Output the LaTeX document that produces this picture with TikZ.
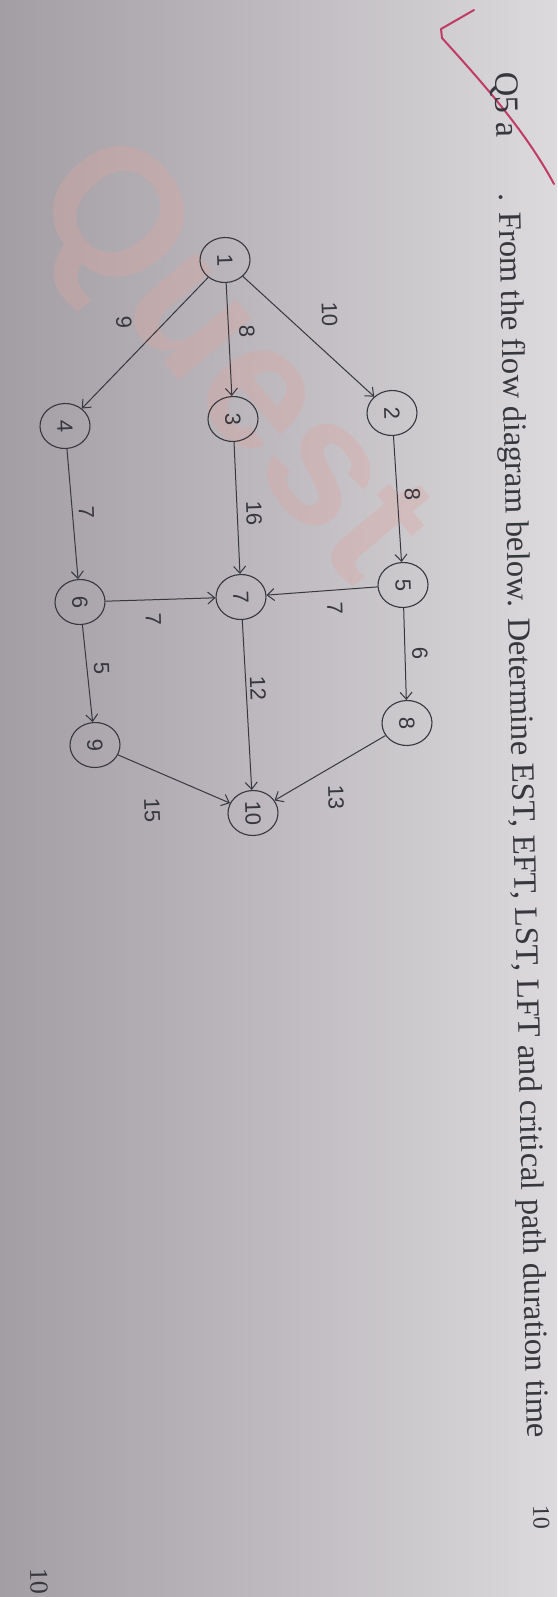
\documentclass[tikz,border=0pt]{standalone}
\usepackage{fontspec}
\setmainfont{Liberation Serif}
\newfontfamily\lblfont{Liberation Sans}
\usetikzlibrary{shapes.geometric,arrows.meta}
\definecolor{ink}{RGB}{55,55,62}
\definecolor{paperL}{RGB}{163,158,164}
\definecolor{paperM}{RGB}{190,186,191}
\definecolor{paperR}{RGB}{220,218,221}
\definecolor{redpen}{RGB}{192,60,100}
\definecolor{wmark}{RGB}{222,165,160}
\begin{document}
\begin{tikzpicture}[x=1pt,y=-1pt,
  ev/.style={ellipse, draw=ink, line width=1.1pt, minimum width=45pt, minimum height=50pt,
     inner sep=0pt, font=\lblfont\fontsize{22}{22}\selectfont, text=ink, rotate=-88},
  lbl/.style={font=\lblfont\fontsize{22}{22}\selectfont, text=ink, inner sep=0pt, rotate=-88},
  arr/.style={draw=ink, line width=1pt, -{Straight Barb[length=7pt,width=12pt]}},
  txt/.style={text=ink, inner sep=0pt, rotate=-88.67}]
\useasboundingbox (0,0) rectangle (557,1597);
\shade[left color=paperL, right color=paperR, middle color=paperM] (0,0) rectangle (557,1597);
% watermark
\node[text=wmark, opacity=0.35, font=\lblfont\bfseries\fontsize{180}{180}\selectfont, rotate=-50, inner sep=0pt] (wm) at (225,365) {Quest};
% red tick
\draw[redpen, line width=2pt, line cap=round, line join=round] (474,10) -- (441,29) -- (442,38) .. controls (480,80) and (525,130) .. (554,184);
% texts
\node[txt, anchor=base west, font=\fontsize{34}{34}\selectfont] (qa) at (495,72) {Q5 a};
\node[txt, anchor=base west] (qtext) at (499,193) {\resizebox{1245pt}{!}{. From the flow diagram below. Determine EST, EFT, LST, LFT and critical path duration time}};
\node[txt, anchor=base west, font=\fontsize{24}{24}\selectfont] (marks) at (533,1505) {10};
\node[txt, anchor=base west, font=\fontsize{26}{26}\selectfont] (marks2) at (30,1568) {10};
% nodes
\node[ev] (n1) at (225,260) {1};
\node[ev] (n2) at (392,413) {2};
\node[ev] (n3) at (233,419) {3};
\node[ev] (n4) at (65,426) {4};
\node[ev] (n5) at (403,585) {5};
\node[ev] (n7) at (241,597) {7};
\node[ev] (n6) at (80,602) {6};
\node[ev] (n8) at (407,723) {8};
\node[ev] (n9) at (95,745) {9};
\node[ev] (n10) at (253,813) {10};
% edges
\draw[arr] (n1) -- node[shift={(21,-22)}, lbl] {10} (n2);
\draw[arr] (n1) -- node[shift={(18,-8)}, lbl] {8} (n3);
\draw[arr] (n1) -- node[shift={(-21,-21)}, lbl] {9} (n4);
\draw[arr] (n2) -- node[shift={(15,-5)}, lbl] {8} (n5);
\draw[arr] (n3) -- node[shift={(17,5)}, lbl] {16} (n7);
\draw[arr] (n4) -- node[shift={(14,-2)}, lbl] {7} (n6);
\draw[arr] (n5) -- node[shift={(13,17)}, lbl] {7} (n7);
\draw[arr] (n5) -- node[shift={(15,-1)}, lbl] {6} (n8);
\draw[arr] (n6) -- node[shift={(-7,20)}, lbl] {7} (n7);
\draw[arr] (n7) -- node[shift={(11,-17)}, lbl] {12} (n10);
\draw[arr] (n8) -- node[shift={(6,29)}, lbl] {13} (n10);
\draw[arr] (n6) -- node[shift={(14,-5)}, lbl] {5} (n9);
\draw[arr] (n9) -- node[shift={(-22,31)}, lbl] {15} (n10);
\end{tikzpicture}
\end{document}
